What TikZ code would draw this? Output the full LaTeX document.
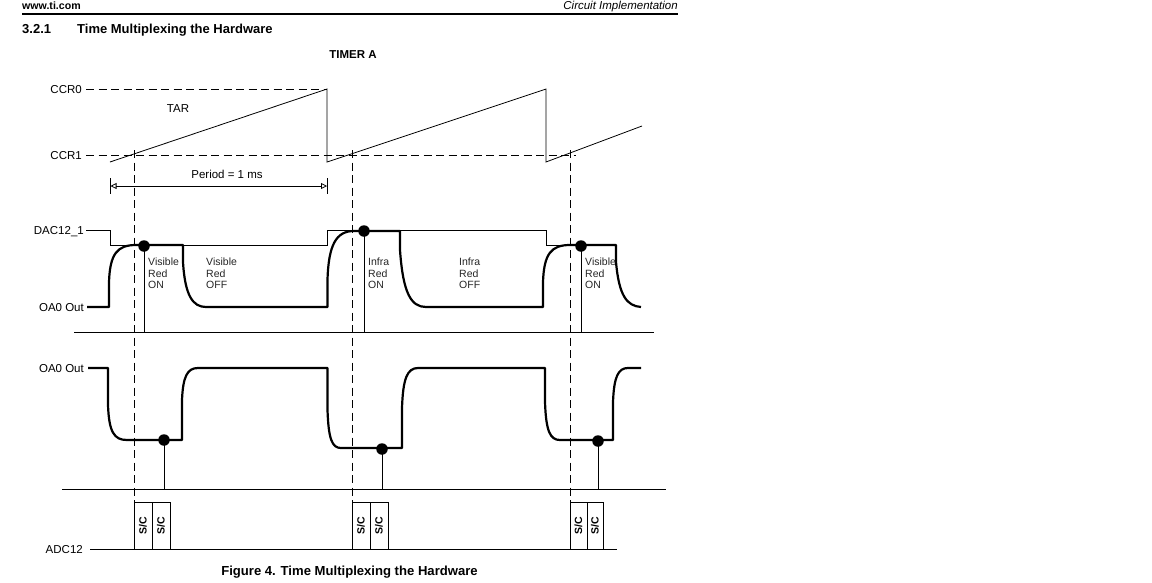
\documentclass[tikz,border=0pt]{standalone}
\usepackage{fontspec}
\setmainfont{Liberation Sans}
\usetikzlibrary{arrows.meta}
\begin{document}
\begin{tikzpicture}[x=1pt,y=-1pt,
  thinln/.style={line width=0.8pt, line join=miter},
  thickln/.style={line width=2.2pt, line join=round},
  dashln/.style={line width=0.8pt, dash pattern=on 8pt off 4.5pt},
  sig/.style={font=\fontsize{11.5}{13}\selectfont, inner sep=0pt, anchor=base east},
  lbl/.style={font=\fontsize{11.5}{13}\selectfont, inner sep=0pt},
  state/.style={font=\fontsize{10.5}{11.3}\selectfont, inner sep=0pt, anchor=north west, align=left, text=black!85},
  sc/.style={font=\bfseries\fontsize{10.5}{12}\selectfont, inner sep=0pt, rotate=90},
  dot/.style={circle, fill=black, inner sep=0pt, minimum size=11.5pt},
  scbox/.style={draw, line width=0.8pt}
]
\useasboundingbox (0,0) rectangle (1152,582);
\fill[white] (0,0) rectangle (1152,582);

% ---------- header ----------
\node[font=\bfseries\fontsize{10.6}{12}\selectfont, inner sep=0pt, anchor=base west] (site) at (22,9) {www.ti.com};
\node[font=\itshape\fontsize{11.5}{13}\selectfont, inner sep=0pt, anchor=base east] (chap) at (678,9) {Circuit Implementation};
\draw[line width=2pt] (22,13.5) -- (678,13.5);
\node[font=\bfseries\fontsize{13}{15}\selectfont, inner sep=0pt, anchor=base west] (secnum) at (22,33.5) {3.2.1};
\node[font=\bfseries\fontsize{13}{15}\selectfont, inner sep=0pt, anchor=base west] (sectitle) at (77,33.5) {Time Multiplexing the Hardware};

\node[font=\bfseries\fontsize{11.5}{13}\selectfont, inner sep=0pt, anchor=base] (timer) at (353,58) {TIMER A};

% ---------- signal names ----------
\node[sig] (ccr0) at (82,93) {CCR0};
\node[sig] (ccr1) at (82,159) {CCR1};
\node[sig] (dac) at (84,234) {DAC12\_1};
\node[sig] (oa1) at (84,311) {OA0 Out};
\node[sig] (oa2) at (84,372) {OA0 Out};
\node[sig] (adc) at (83,553) {ADC12};

\node[lbl, anchor=base] (tar) at (178,112) {TAR};
\node[lbl, anchor=base] (period) at (227,178) {Period = 1 ms};

% ---------- TIMER A ----------
\draw[dashln] (86,89) -- (327,89);
\draw[dashln] (86,155) -- (576,155);
\draw[thinln] (110,162) -- (327,89) -- (327,162) -- (546,89) -- (546,162) -- (642,126);

% period dimension
\coordinate (pl) at (110.5,186);
\coordinate (pr) at (327,186);
\draw[thinln] (110.5,178) -- (110.5,194);
\draw[thinln] (327,178) -- (327,194);
\draw[thinln, {Triangle[open,length=6pt,width=6pt]}-{Triangle[open,length=6pt,width=6pt]}] (pl) -- (pr);

% dashed sample markers
\draw[dashln] (134,150) -- (134,502);
\draw[dashln] (352,150) -- (352,502);
\draw[dashln] (570,150) -- (570,502);

% ---------- DAC12_1 ----------
\draw[thinln] (86,230) -- (110,230) -- (110,245) -- (327,245) -- (327,230) -- (546,230) -- (546,245) -- (617,245);

% ---------- OA0 Out (top) ----------
\draw[thickln] (87,307) -- (109,307) -- (109,282)
  .. controls (110,254) and (117,245) .. (136,245) -- (183,245) -- (183,262)
  .. controls (185,296) and (193,307) .. (206,307) -- (327.5,307) -- (327.5,280)
  .. controls (328.5,245) and (336,231) .. (354,231) -- (400,231) -- (400,250)
  .. controls (403,293) and (411,307) .. (426,307) -- (543,307) -- (543,282)
  .. controls (544,254) and (551,245) .. (570,245) -- (616,245) -- (616,262)
  .. controls (619,296) and (627,306) .. (641,307);

\node[dot] (d1) at (144,246) {};
\node[dot] (d2) at (364,231) {};
\node[dot] (d3) at (581,246) {};
\coordinate (b1) at (144,332);
\coordinate (b2) at (364,332);
\coordinate (b3) at (581,332);
\draw[thinln] (d1.center) -- (b1);
\draw[thinln] (d2.center) -- (b2);
\draw[thinln] (d3.center) -- (b3);

\node[state] (s1) at (148,258) {Visible\\Red\\ON};
\node[state] (s2) at (206,258) {Visible\\Red\\OFF};
\node[state] (s3) at (368,258) {Infra\\Red\\ON};
\node[state] (s4) at (459,258) {Infra\\Red\\OFF};
\node[state] (s5) at (585,258) {Visible\\Red\\ON};

\draw[thinln] (74,332) -- (654,332);

% ---------- OA0 Out (bottom) ----------
\draw[thickln] (88,368) -- (108,368) -- (108,405)
  .. controls (109,432) and (114,440) .. (127,440) -- (182,440) -- (182,400)
  .. controls (183,377) and (187,368) .. (198,368) -- (327.5,368) -- (327.5,410)
  .. controls (328.5,439) and (332,448) .. (341,448) -- (402,448) -- (402,408)
  .. controls (403,379) and (407,368) .. (418,368) -- (545,368) -- (545,402)
  .. controls (546,431) and (550,440) .. (560,440) -- (613,440) -- (613,402)
  .. controls (614,377) and (618,368) .. (628,368) -- (641,368);

\node[dot] (e1) at (164,440) {};
\node[dot] (e2) at (382,449) {};
\node[dot] (e3) at (598,441) {};
\coordinate (f1) at (164,489);
\coordinate (f2) at (382,489);
\coordinate (f3) at (598,489);
\draw[thinln] (e1.center) -- (f1);
\draw[thinln] (e2.center) -- (f2);
\draw[thinln] (e3.center) -- (f3);

\draw[thinln] (62,489) -- (666,489);

% ---------- ADC12 ----------
\draw[thinln] (90,549) -- (617,549);
\draw[scbox] (134,502) rectangle (152,549) node[midway, sc] (sc1) {S/C};
\draw[scbox] (152,502) rectangle (170,549) node[midway, sc] (sc2) {S/C};
\draw[scbox] (352,502) rectangle (370,549) node[midway, sc] (sc3) {S/C};
\draw[scbox] (370,502) rectangle (388,549) node[midway, sc] (sc4) {S/C};
\draw[scbox] (570,502) rectangle (587,549) node[midway, sc] (sc5) {S/C};
\draw[scbox] (587,502) rectangle (603,549) node[midway, sc] (sc6) {S/C};

% ---------- caption ----------
\node[font=\bfseries\fontsize{13.1}{15}\selectfont, inner sep=0pt, anchor=base] (cap) at (349.5,575.5) {Figure 4. Time Multiplexing the Hardware};
\end{tikzpicture}
\end{document}
